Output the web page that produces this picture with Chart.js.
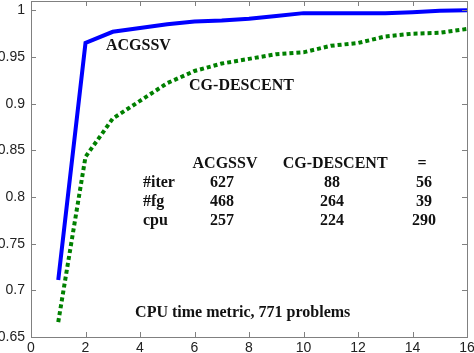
<!DOCTYPE html>
<html>
<head>
<meta charset="utf-8">
<script src="https://cdn.jsdelivr.net/npm/chart.js@4.4.1/dist/chart.umd.min.js"></script>
<style>
  html, body { margin: 0; padding: 0; background: #fff; overflow: hidden; }
  canvas { display: block; }
</style>
</head>
<body>
<canvas id="profileChart" width="474" height="353"></canvas>
<script>
var xValues = [1, 2, 3, 4, 5, 6, 7, 8, 9, 10, 11, 12, 13, 14, 15, 16]
var acgssv = [0.711, 0.965, 0.977, 0.981, 0.985, 0.988, 0.989, 0.991, 0.994, 0.997, 0.997, 0.997, 0.997, 0.998, 0.9995, 1.0]
var cgDescent = [0.666, 0.843, 0.884, 0.903, 0.922, 0.935, 0.943, 0.948, 0.953, 0.955, 0.962, 0.965, 0.972, 0.975, 0.976, 0.980]
var xTicks = [0, 2, 4, 6, 8, 10, 12, 14, 16]
var yTicks = [0.65, 0.7, 0.75, 0.8, 0.85, 0.9, 0.95, 1]

var tableHeader = ["ACGSSV", "CG-DESCENT", "="]
var tableRows = ["#iter", "#fg", "cpu"]
var tableValues = [
  [627, 88, 56],
  [468, 264, 39],
  [257, 224, 290],
]
var caption = "CPU time metric, 771 problems"

var frameColor = '#808080'
var serif = 'bold 16px "Liberation Serif", "Times New Roman", serif'

// inward ticks + box frame, matlab style
var framePlugin = {
  id: 'frame',
  afterDraw: function(chart) {
    var ctx = chart.ctx
    var a = chart.chartArea
    var sx = chart.scales.x
    var sy = chart.scales.y
    var len = 5
    ctx.save()
    ctx.strokeStyle = frameColor
    ctx.lineWidth = 1
    ctx.beginPath()
    xTicks.forEach(function(v) {
      var px = Math.round(sx.getPixelForValue(v)) + 0.5
      ctx.moveTo(px, a.bottom); ctx.lineTo(px, a.bottom - len)
      ctx.moveTo(px, a.top); ctx.lineTo(px, a.top + len)
    })
    yTicks.forEach(function(v) {
      var py = Math.round(sy.getPixelForValue(v)) + 0.5
      ctx.moveTo(a.left, py); ctx.lineTo(a.left + len, py)
      ctx.moveTo(a.right, py); ctx.lineTo(a.right - len, py)
    })
    ctx.stroke()
    ctx.strokeRect(Math.round(a.left) + 0.5, Math.round(a.top) + 0.5,
                   Math.round(a.right - a.left), Math.round(a.bottom - a.top))
    ctx.restore()
  }
}

// text inside the plot, placed in data coordinates
var textPlugin = {
  id: 'texts',
  afterDatasetsDraw: function(chart) {
    var ctx = chart.ctx
    var sx = chart.scales.x
    var sy = chart.scales.y
    function put(txt, x, y, align) {
      ctx.textAlign = align
      ctx.fillText(txt, sx.getPixelForValue(x), sy.getPixelForValue(y))
    }
    ctx.save()
    ctx.font = serif
    ctx.fillStyle = '#111'
    ctx.textBaseline = 'middle'
    put("ACGSSV", 2.75, 0.962, 'left')
    put("CG-DESCENT", 5.8, 0.919, 'left')

    var headX = [7.12, 11.16, 14.35]
    var colX = [7.01, 11.05, 14.42]
    var rowY = [0.815, 0.795, 0.774]
    tableHeader.forEach(function(h, i) { put(h, headX[i], 0.836, 'center') })
    tableRows.forEach(function(r, j) {
      put(r, 4.11, rowY[j], 'left')
      tableValues[j].forEach(function(v, i) { put(String(v), colX[i], rowY[j], 'center') })
    })
    put(caption, 3.82, 0.676, 'left')
    ctx.restore()
  }
}

var ctx = document.getElementById("profileChart").getContext('2d')
var myChart = new Chart(ctx, {
  type: 'line',
  plugins: [framePlugin, textPlugin],
  data: {
    labels: xValues,
    datasets: [{
      label: 'ACGSSV',
      data: acgssv,
      borderColor: '#0000ff',
      borderWidth: 4,
      borderJoinStyle: 'miter',
      pointRadius: 0,
      tension: 0,
    }, {
      label: 'CG-DESCENT',
      data: cgDescent,
      borderColor: '#008000',
      borderWidth: 4,
      borderDash: [4, 3],
      pointRadius: 0,
      tension: 0,
    }]
  },
  options: {
    responsive: false,
    animation: false,
    layout: { padding: { top: 1, right: 7, left: 0, bottom: 0 } },
    plugins: {
      legend: { display: false },
      tooltip: { enabled: false },
    },
    scales: {
      x: {
        type: 'linear',
        min: 0,
        max: 16,
        afterBuildTicks: function(scale) {
          scale.ticks = xTicks.map(function(v) { return { value: v } })
        },
        afterFit: function(scale) {
          scale.height = 16
          scale.paddingLeft = 0
          scale.paddingRight = 0
        },
        grid: { display: false, drawTicks: false },
        border: { display: false },
        ticks: {
          padding: 3,
          maxRotation: 0,
          autoSkip: false,
          color: '#222',
          font: { family: '"Liberation Sans", Arial, sans-serif', size: 14 },
        }
      },
      y: {
        type: 'linear',
        min: 0.65,
        max: 1.01,
        afterBuildTicks: function(scale) {
          scale.ticks = yTicks.map(function(v) { return { value: v } })
        },
        afterFit: function(scale) {
          scale.width = 31
          scale.paddingTop = 0
          scale.paddingBottom = 0
        },
        grid: { display: false, drawTicks: false },
        border: { display: false },
        ticks: {
          padding: 6,
          autoSkip: false,
          color: '#222',
          font: { family: '"Liberation Sans", Arial, sans-serif', size: 14 },
          callback: function(v) { return String(+v.toFixed(2)) }
        }
      }
    }
  }
})
</script>
</body>
</html>
